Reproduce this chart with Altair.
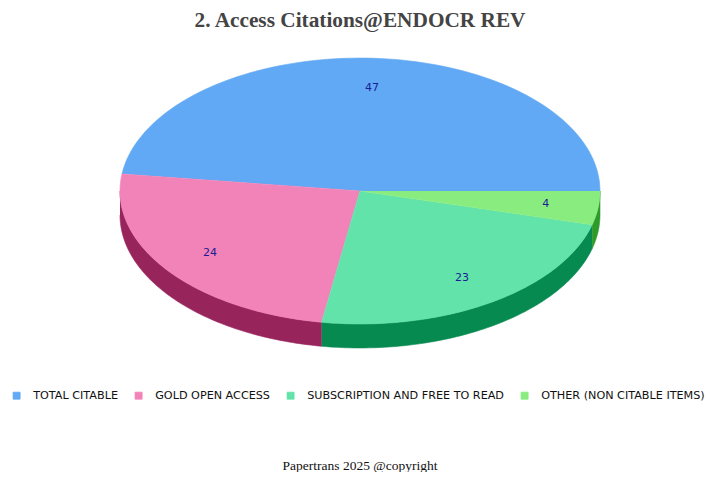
import altair as alt
import pandas as pd

categories = ["TOTAL CITABLE", "GOLD OPEN ACCESS", "SUBSCRIPTION AND FREE TO READ", "OTHER (NON CITABLE ITEMS)"]
values = [47, 24, 23, 4]
top_colors = ["#61a9f4", "#f283b9", "#62e3a9", "#88ec7f"]
side_colors = ["#2f6fb8", "#98245c", "#078a50", "#2e9a2a"]
title_text = "2. Access Citations@ENDOCR REV"
footer_text = "Papertrans 2025 @copyright"

TILT = 0.554   # vertical squash of the pie
DEPTH = 0.1    # thickness of the pie
N = 90         # samples per arc
LR = 0.78      # label radius

df = pd.DataFrame({"cat": categories, "value": values, "idx": list(range(len(values)))})

W, H = 704, 464
CX, CY = 352, 183
UNIT = 240.0
xdom = [-CX / UNIT, (W - CX) / UNIT]
ydom = [-(H - CY) / UNIT, CY / UNIT]

xs = alt.X("px:Q", axis=None, scale=alt.Scale(domain=xdom, nice=False, zero=False))
ys = alt.Y("py:Q", axis=None, scale=alt.Scale(domain=ydom, nice=False, zero=False))

base = (
    alt.Chart(df)
    .transform_joinaggregate(total="sum(value)")
    .transform_window(cum="sum(value)", sort=[alt.SortField("idx")], frame=[None, 0])
    .transform_calculate(
        a0="(datum.cum - datum.value) / datum.total * 2 * PI",
        a1="datum.cum / datum.total * 2 * PI",
    )
)

walls = (
    base.transform_filter("datum.a1 > PI")
    .transform_calculate(w0="max(datum.a0, PI)", steps=f"sequence(0, {2 * N + 2})")
    .transform_flatten(["steps"])
    .transform_calculate(
        t=f"datum.steps <= {N} ? datum.w0 + (datum.a1 - datum.w0) * datum.steps / {N} : datum.a1 - (datum.a1 - datum.w0) * (datum.steps - {N + 1}) / {N}",
    )
    .transform_calculate(
        px="cos(datum.t)",
        py=f"datum.steps <= {N} ? sin(datum.t) * {TILT} : sin(datum.t) * {TILT} - {DEPTH}",
    )
    .mark_line(filled=True, strokeWidth=0.6, interpolate="linear")
    .encode(
        x=xs,
        y=ys,
        fill=alt.Fill("cat:N", scale=alt.Scale(domain=categories, range=side_colors), legend=None),
        stroke=alt.Stroke("cat:N", scale=alt.Scale(domain=categories, range=side_colors), legend=None),
        detail="cat:N",
        order=alt.Order("steps:Q"),
    )
)

tops = (
    base.transform_calculate(steps=f"sequence(0, {N + 2})")
    .transform_flatten(["steps"])
    .transform_calculate(t=f"datum.a0 + (datum.a1 - datum.a0) * max(datum.steps - 1, 0) / {N}")
    .transform_calculate(
        px="datum.steps == 0 ? 0 : cos(datum.t)",
        py=f"datum.steps == 0 ? 0 : sin(datum.t) * {TILT}",
    )
    .mark_line(filled=True, strokeWidth=0.6, interpolate="linear")
    .encode(
        x=xs,
        y=ys,
        fill=alt.Fill(
            "cat:N",
            scale=alt.Scale(domain=categories, range=top_colors),
            legend=alt.Legend(
                title=None,
                orient="none",
                legendX=3,
                legendY=382,
                direction="horizontal",
                symbolType="square",
                symbolSize=49,
                symbolStrokeColor="#555555",
                symbolStrokeWidth=0.8,
                labelFont="DejaVu Sans",
                labelFontSize=11.2,
                labelColor="#111111",
                labelLimit=400,
                labelOffset=11,
                columnPadding=15,
            ),
        ),
        stroke=alt.Stroke("cat:N", scale=alt.Scale(domain=categories, range=top_colors), legend=None),
        detail="cat:N",
        order=alt.Order("steps:Q"),
    )
)

labels = (
    base.transform_calculate(m="(datum.a0 + datum.a1) / 2")
    .transform_calculate(px=f"{LR} * cos(datum.m)", py=f"{LR} * sin(datum.m) * {TILT}")
    .mark_text(font="DejaVu Sans", fontSize=11, color="#1c1c96", baseline="middle", align="center")
    .encode(x=xs, y=ys, text="value:Q")
)

title = (
    alt.Chart(pd.DataFrame({"t": [title_text]}))
    .mark_text(font="Liberation Serif", fontSize=21.3, fontWeight="bold", color="#444444",
               baseline="alphabetic", align="center")
    .encode(x=alt.value(W / 2), y=alt.value(19), text="t:N")
)

footer = (
    alt.Chart(pd.DataFrame({"t": [footer_text]}))
    .mark_text(font="Liberation Serif", fontSize=13.5, color="#111111", baseline="middle", align="center")
    .encode(x=alt.value(W / 2), y=alt.value(458), text="t:N")
)

chart = (
    alt.layer(walls, tops, labels, title, footer)
    .resolve_scale(fill="independent", stroke="independent")
    .properties(
        width=W,
        height=H,
        padding=0,
        autosize=alt.AutoSizeParams(type="none"),
    )
    .configure_view(stroke=None)
)

chart.save("out.html", embed_options={"renderer": "svg", "actions": False})
